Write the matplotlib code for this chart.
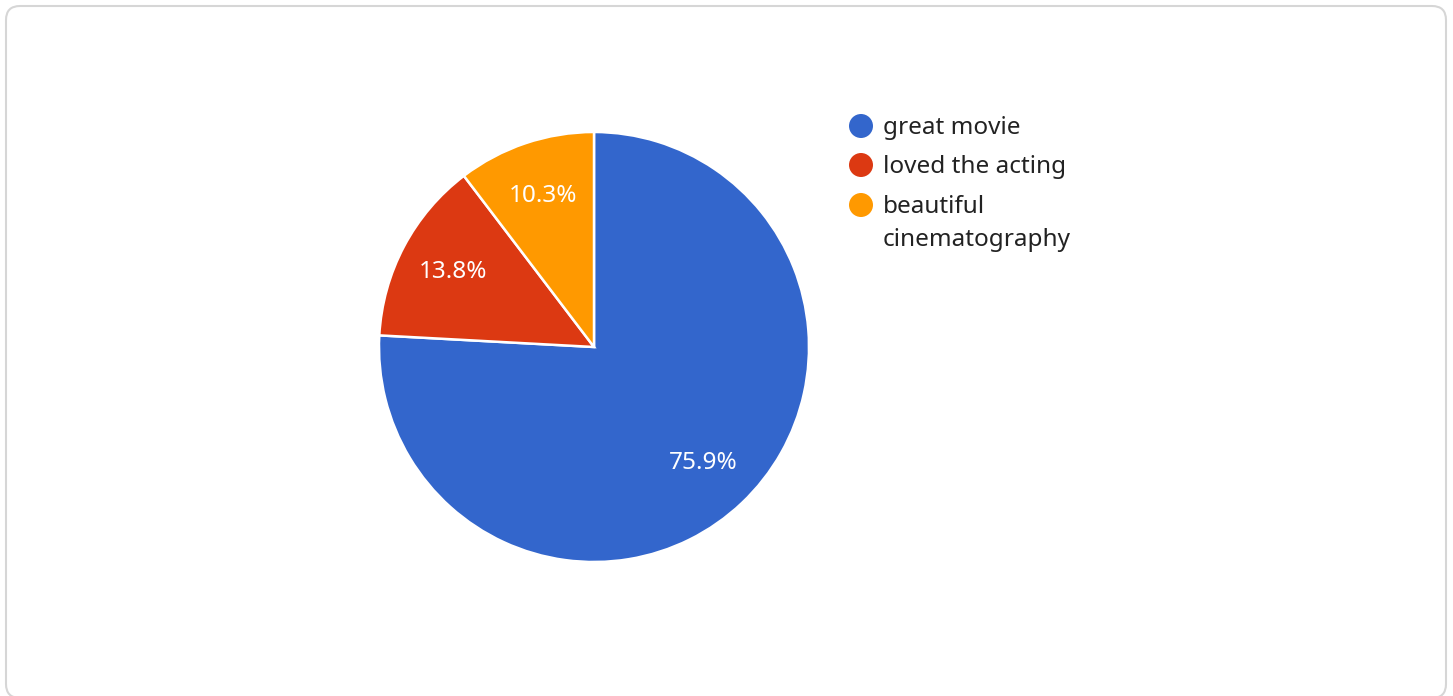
import matplotlib
matplotlib.use("Agg")
import matplotlib.pyplot as plt
from matplotlib.patches import FancyBboxPatch, Circle
from matplotlib.transforms import IdentityTransform

plt.rcParams['font.family'] = ['Noto Sans', 'DejaVu Sans']

labels = ['great movie', 'loved the acting', 'beautiful\ncinematography']
counts = [22, 4, 3]
colors = ['#3366CC', '#DC3912', '#FF9900']

W, H = 1453, 696
fig = plt.figure(figsize=(W / 100, H / 100), dpi=100)
fig.patch.set_facecolor('white')

# card border (behind everything)
card = FancyBboxPatch((6, -2), 1440, 692, boxstyle="round,pad=0,rounding_size=14",
                      transform=IdentityTransform(), facecolor='white',
                      edgecolor='#d6d6d6', linewidth=1.5, zorder=-10)
fig.patches.append(card)

# pie: center (594, 347) px, radius 215 px
cx, cy, r = 594, 347, 215
ax = fig.add_axes([(cx - r) / W, (H - cy - r) / H, 2 * r / W, 2 * r / H])
ax.set_zorder(5)
ax.patch.set_alpha(0)
wedges, texts, autotexts = ax.pie(
    counts, colors=colors, startangle=90, counterclock=False,
    autopct='%.1f%%', pctdistance=0.74, radius=1,
    wedgeprops=dict(edgecolor='white', linewidth=1.8),
    textprops=dict(color='white', fontsize=17.5))
ax.set_xlim(-1, 1)
ax.set_ylim(-1, 1)
ax.set_aspect('equal')
ax.axis('off')

# legend drawn by hand
lx, tx = 861, 883
ys = [126, 165, 205]
line_step = 33
for lab, col, y in zip(labels, colors, ys):
    fig.patches.append(Circle((lx, H - y), 12, transform=IdentityTransform(),
                              facecolor=col, edgecolor='none', zorder=6))
    for i, part in enumerate(lab.split('\n')):
        fig.text(tx / W, (H - y - 2 - i * line_step) / H, part, fontsize=17.5,
                 color='#222222', va='center', ha='left', zorder=6)

fig.savefig('out.png', dpi=100)
